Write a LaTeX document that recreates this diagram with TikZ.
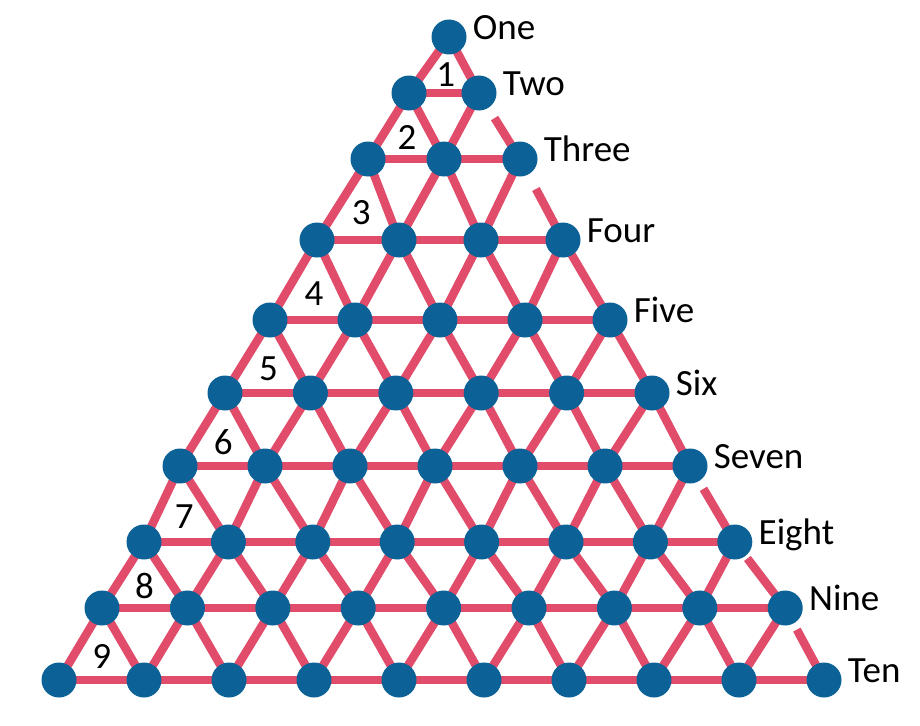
\documentclass[tikz,border=0pt]{standalone}
\usepackage{fontspec}
\setmainfont{Carlito}
\usetikzlibrary{calc,backgrounds}
\definecolor{dotblue}{RGB}{12,98,150}
\definecolor{stickred}{RGB}{224,76,106}

\begin{document}
\begin{tikzpicture}[x=1pt,y=-1pt]
            \tikzstyle{dot}=[circle, fill=dotblue, inner sep=0pt, minimum size=35pt]
            \tikzstyle{stick}=[draw=stickred, line width=8.5pt]
            \tikzstyle{txt}=[font=\fontsize{37}{42}\selectfont, inner sep=0pt]

            \useasboundingbox (0,0) rectangle (920,725);

            % dots, row by row: row/y/x of first dot/spacing
            \foreach \r/\y/\x/\d in {1/37/449/0, 2/93/409/70, 3/159/368/76, 4/240/317/82,
                                     5/320/270/85, 6/393/225/85.4, 7/466/180/85,
                                     8/542/144/84.4, 9/608/102/85.4, 10/680/59/85}
                \foreach \i in {1,...,\r}
                    \node[dot] (p\r-\i) at ({\x+(\i-1)*\d},\y) {};

            \foreach \r/\t in {1/One, 2/Two, 3/Three, 4/Four, 5/Five,
                               6/Six, 7/Seven, 8/Eight, 9/Nine, 10/Ten}
                \node[txt, anchor=mid west] (name\r) at ([xshift=6pt]p\r-\r.east) {\t};

            \foreach \k in {1,...,9} {
                \pgfmathtruncatemacro\s{\k+1}
                \node[txt] (n\k) at (barycentric cs:p\k-1=1,p\s-1=1,p\s-2=1) {\k};
            }

            \begin{scope}[on background layer]
                \foreach \r in {1,...,9} {
                    \pgfmathtruncatemacro\s{\r+1}
                    \foreach \i in {1,...,\r} {
                        \pgfmathtruncatemacro\j{\i+1}
                        \draw[stick] (p\r-\i.center) -- (p\s-\i.center);
                        \ifnum\i<\r \draw[stick] (p\r-\i.center) -- (p\s-\j.center); \fi
                        \draw[stick] (p\s-\i.center) -- (p\s-\j.center);
                    }
                }
                % right side, some strokes start short of the upper dot
                \foreach \r/\f in {1/0, 2/0.38, 3/0.37, 4/0, 5/0, 6/0, 7/0.3, 8/0.25, 9/0.3} {
                    \pgfmathtruncatemacro\s{\r+1}
                    \draw[stick] ($(p\r-\r.center)!\f!(p\s-\s.center)$) -- (p\s-\s.center);
                }
            \end{scope}
        \end{tikzpicture}
\end{document}
